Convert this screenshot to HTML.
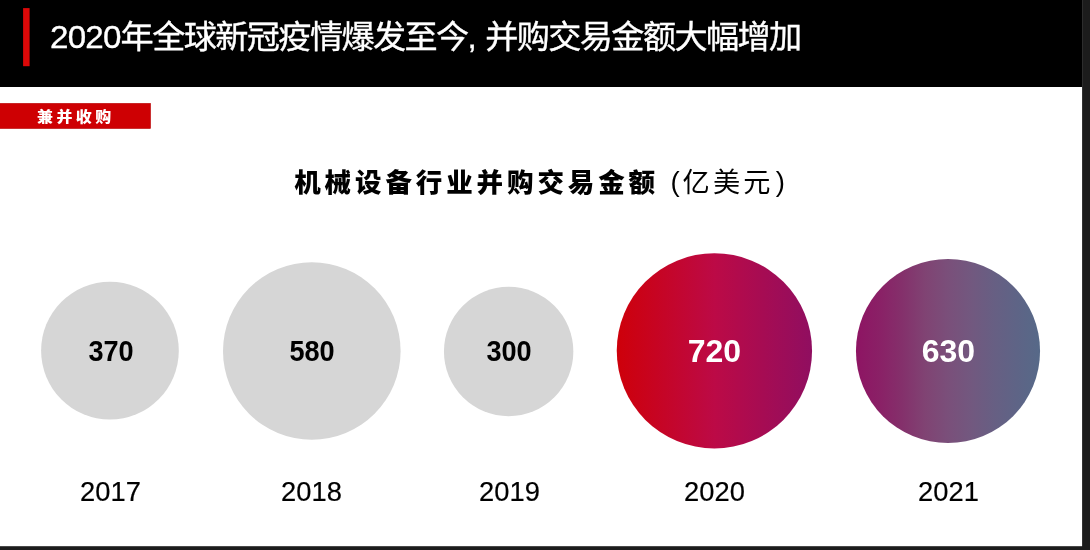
<!DOCTYPE html>
<html lang="zh-CN">
<head>
<meta charset="utf-8">
<title>机械设备行业并购交易金额</title>
<style>
html,body{margin:0;padding:0;}
body{width:1090px;height:550px;overflow:hidden;background:#1c1c1c;position:relative;
  font-family:"Liberation Sans","Noto Sans CJK SC",sans-serif;}
#slide{position:absolute;left:0;top:0;width:1090px;height:550px;overflow:hidden;}
#shapes{position:absolute;left:0;top:0;}
#title{position:absolute;left:50.1px;top:13.9px;height:46px;line-height:46px;white-space:nowrap;
  color:#fff;font-size:31.6px;font-weight:400;letter-spacing:-1.55px;transform:scaleX(1.05);transform-origin:0 50%;
  -webkit-text-stroke:0.35px #fff;}
#title .d{letter-spacing:-0.76px;}
#title .p{letter-spacing:-0.43px;}
#tag{position:absolute;left:36.7px;top:104.9px;line-height:25px;color:#fff;font-weight:900;font-size:14.5px;letter-spacing:3.14px;white-space:nowrap;transform:scaleX(1.10);transform-origin:0 50%;}
#ct1{position:absolute;left:294.2px;top:160.6px;height:44px;line-height:44px;white-space:nowrap;
  font-size:26.5px;letter-spacing:3.9px;color:#000;font-weight:900;}
#ct2{position:absolute;left:670.6px;top:160.4px;height:44px;line-height:44px;white-space:nowrap;
  font-size:27.6px;color:#000;font-weight:400;}
#ct2 i{font-style:normal;position:absolute;top:0;left:0;}
#ct2 .k{left:12.0px;top:1.1px;font-size:27.2px;letter-spacing:3.1px;}
#ct2 .r{left:105.2px;}
.n{position:absolute;width:120px;height:40px;line-height:40px;margin-left:-60px;text-align:center;
  font-weight:700;font-size:29.3px;color:#000;top:330.7px;transform:scaleX(0.925);}
.w{color:#fff;font-size:32px;transform:none;top:331.4px;}
.y{position:absolute;top:474px;transform:translate(0.5px,0.3px) rotate(0.001deg);-webkit-text-stroke:0.2px #000;width:120px;height:36px;line-height:36px;text-align:center;font-size:27.3px;color:#000;}
</style>
</head>
<body>
<div id="slide">
  <svg id="shapes" width="1090" height="550" viewBox="0 0 1090 550">
    <defs>
      <linearGradient id="g1" x1="0" y1="0" x2="1" y2="0">
        <stop offset="0" stop-color="#ce000a"/>
        <stop offset="0.5" stop-color="#bc0a46"/>
        <stop offset="1" stop-color="#900e60"/>
      </linearGradient>
      <linearGradient id="g2" x1="0" y1="0" x2="1" y2="0">
        <stop offset="0" stop-color="#8e1463"/>
        <stop offset="0.125" stop-color="#8a2066"/>
        <stop offset="0.25" stop-color="#84306b"/>
        <stop offset="0.375" stop-color="#804373"/>
        <stop offset="0.5" stop-color="#7a4f7a"/>
        <stop offset="0.625" stop-color="#72587f"/>
        <stop offset="0.75" stop-color="#675f83"/>
        <stop offset="0.875" stop-color="#5e6486"/>
        <stop offset="1" stop-color="#566988"/>
      </linearGradient>
    </defs>
    <rect x="0" y="0" width="1082.1" height="546.2" fill="#ffffff"/>
    <rect x="0" y="0" width="1082.1" height="87" fill="#000000"/>
    <rect x="23.1" y="8.1" width="6.5" height="58.1" fill="#dc0808"/>
    <rect x="-1" y="103.3" width="151.6" height="25.3" fill="#ce0003" stroke="#b40000" stroke-width="0.5"/>
    <circle cx="109.95" cy="350.65" r="68.85" fill="#d6d6d6"/>
    <circle cx="311.8" cy="351.0" r="88.8" fill="#d6d6d6"/>
    <circle cx="508.65" cy="351.45" r="64.7" fill="#d6d6d6"/>
    <circle cx="714.4" cy="350.85" r="97.65" fill="url(#g1)"/>
    <circle cx="948.0" cy="351.05" r="92.05" fill="url(#g2)"/>
  </svg>
  <div id="title"><span class="d">2020</span>年全球新冠疫情爆发至今<span class="p">, </span>并购交易金额大幅增加</div>
  <div id="tag">兼并收购</div>
  <div id="ct1">机械设备行业并购交易金额 </div>
  <div id="ct2"><i>(</i><i class="k">亿美元</i><i class="r">)</i></div>

  <div class="n" style="left:110.8px;">370</div>
  <div class="n" style="left:311.7px;">580</div>
  <div class="n" style="left:508.6px;">300</div>
  <div class="n w" style="left:714.4px;">720</div>
  <div class="n w" style="left:948.4px;">630</div>

  <div class="y" style="left:49.5px;">2017</div>
  <div class="y" style="left:251.2px;">2018</div>
  <div class="y" style="left:448.6px;">2019</div>
  <div class="y" style="left:654px;">2020</div>
  <div class="y" style="left:887.5px;">2021</div>
</div>
</body>
</html>
